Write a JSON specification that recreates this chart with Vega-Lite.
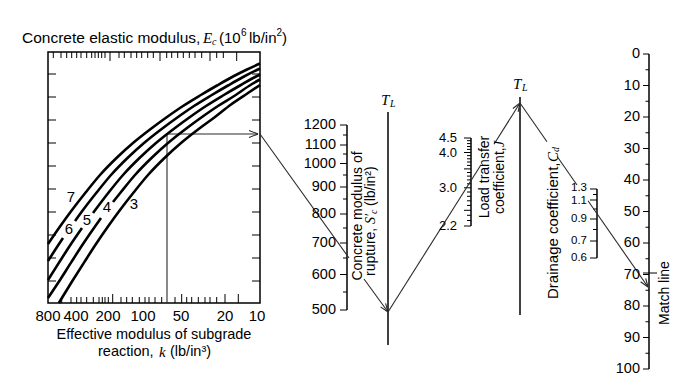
{
  "$schema": "https://vega.github.io/schema/vega-lite/v6.json",
  "width": 700,
  "height": 390,
  "autosize": {"type": "fit", "contains": "padding"},
  "padding": 0,
  "background": "white",
  "config": {"view": {"stroke": null}},
  "datasets": {
    "frame": [{"x": 48, "x2": 260, "y": 52, "y2": 303}],
    "curves": [
      {"seg": "7", "x": 48, "y": 244}, {"seg": "7", "x": 60, "y": 226.5}, {"seg": "7", "x": 72, "y": 210}, {"seg": "7", "x": 86, "y": 192}, {"seg": "7", "x": 100, "y": 175}, {"seg": "7", "x": 117, "y": 157.5}, {"seg": "7", "x": 133, "y": 143}, {"seg": "7", "x": 150, "y": 129.5}, {"seg": "7", "x": 167, "y": 117}, {"seg": "7", "x": 183, "y": 106}, {"seg": "7", "x": 200, "y": 95.5}, {"seg": "7", "x": 217, "y": 85.5}, {"seg": "7", "x": 233, "y": 76.5}, {"seg": "7", "x": 247, "y": 69.5}, {"seg": "7", "x": 260, "y": 63.5},
      {"seg": "6a", "x": 48, "y": 261}, {"seg": "6a", "x": 59, "y": 244}, {"seg": "6a", "x": 63, "y": 238},
      {"seg": "6b", "x": 75, "y": 221}, {"seg": "6b", "x": 83, "y": 210}, {"seg": "6b", "x": 97, "y": 192}, {"seg": "6b", "x": 111, "y": 175}, {"seg": "6b", "x": 128, "y": 157.5}, {"seg": "6b", "x": 144, "y": 143}, {"seg": "6b", "x": 161, "y": 129.5}, {"seg": "6b", "x": 178, "y": 117}, {"seg": "6b", "x": 194, "y": 106}, {"seg": "6b", "x": 211, "y": 95.5}, {"seg": "6b", "x": 228, "y": 85.5}, {"seg": "6b", "x": 244, "y": 76.5}, {"seg": "6b", "x": 258, "y": 69.5}, {"seg": "6b", "x": 260, "y": 68.6},
      {"seg": "5a", "x": 48, "y": 280}, {"seg": "5a", "x": 59, "y": 262.6}, {"seg": "5a", "x": 71, "y": 244}, {"seg": "5a", "x": 82, "y": 228},
      {"seg": "5b", "x": 93, "y": 213}, {"seg": "5b", "x": 109, "y": 192}, {"seg": "5b", "x": 123, "y": 175}, {"seg": "5b", "x": 140, "y": 157.5}, {"seg": "5b", "x": 156, "y": 143}, {"seg": "5b", "x": 173, "y": 129.5}, {"seg": "5b", "x": 190, "y": 117}, {"seg": "5b", "x": 206, "y": 106}, {"seg": "5b", "x": 223, "y": 95.5}, {"seg": "5b", "x": 240, "y": 85.5}, {"seg": "5b", "x": 256, "y": 76.5}, {"seg": "5b", "x": 260, "y": 74.5},
      {"seg": "4a", "x": 48, "y": 298}, {"seg": "4a", "x": 59, "y": 281.5}, {"seg": "4a", "x": 71, "y": 262.6}, {"seg": "4a", "x": 83, "y": 244}, {"seg": "4a", "x": 95, "y": 226.5}, {"seg": "4a", "x": 101, "y": 218},
      {"seg": "4b", "x": 113, "y": 202}, {"seg": "4b", "x": 121, "y": 192}, {"seg": "4b", "x": 135, "y": 175}, {"seg": "4b", "x": 152, "y": 157.5}, {"seg": "4b", "x": 168, "y": 143}, {"seg": "4b", "x": 185, "y": 129.5}, {"seg": "4b", "x": 202, "y": 117}, {"seg": "4b", "x": 218, "y": 106}, {"seg": "4b", "x": 235, "y": 95.5}, {"seg": "4b", "x": 252, "y": 84}, {"seg": "4b", "x": 260, "y": 79.5},
      {"seg": "3", "x": 58.8, "y": 303}, {"seg": "3", "x": 72, "y": 281.5}, {"seg": "3", "x": 84, "y": 262.6}, {"seg": "3", "x": 96, "y": 244}, {"seg": "3", "x": 108, "y": 226.5}, {"seg": "3", "x": 120, "y": 210}, {"seg": "3", "x": 134, "y": 192}, {"seg": "3", "x": 148, "y": 175}, {"seg": "3", "x": 165, "y": 157.5}, {"seg": "3", "x": 181, "y": 143}, {"seg": "3", "x": 198, "y": 129.5}, {"seg": "3", "x": 215, "y": 117}, {"seg": "3", "x": 231, "y": 104.5}, {"seg": "3", "x": 248, "y": 93}, {"seg": "3", "x": 260, "y": 85}
    ],
    "vticks": [
      {"x": 61.7, "y": 303, "y2": 297}, {"x": 71, "y": 303, "y2": 297}, {"x": 76.7, "y": 303, "y2": 297}, {"x": 81, "y": 303, "y2": 297}, {"x": 86.7, "y": 303, "y2": 297}, {"x": 93.3, "y": 303, "y2": 297}, {"x": 99, "y": 303, "y2": 297}, {"x": 102.3, "y": 303, "y2": 297}, {"x": 105, "y": 303, "y2": 297}, {"x": 108.3, "y": 303, "y2": 297}, {"x": 112.7, "y": 303, "y2": 294}, {"x": 121, "y": 303, "y2": 297}, {"x": 126.7, "y": 303, "y2": 297}, {"x": 132.3, "y": 303, "y2": 297}, {"x": 139.3, "y": 303, "y2": 297}, {"x": 145, "y": 303, "y2": 297}, {"x": 149, "y": 303, "y2": 297}, {"x": 155, "y": 303, "y2": 297}, {"x": 161.7, "y": 303, "y2": 297}, {"x": 175, "y": 303, "y2": 297}, {"x": 181.7, "y": 303, "y2": 294}, {"x": 186.7, "y": 303, "y2": 297}, {"x": 191.7, "y": 303, "y2": 297}, {"x": 198.3, "y": 303, "y2": 297}, {"x": 205, "y": 303, "y2": 297}, {"x": 210, "y": 303, "y2": 297}, {"x": 216.7, "y": 303, "y2": 297}, {"x": 225, "y": 303, "y2": 294}, {"x": 238.3, "y": 303, "y2": 294},
      {"x": 53.3, "y": 52, "y2": 58}, {"x": 61, "y": 52, "y2": 58}, {"x": 66.7, "y": 52, "y2": 58}, {"x": 71.7, "y": 52, "y2": 58}, {"x": 76.7, "y": 52, "y2": 58}, {"x": 81, "y": 52, "y2": 58}, {"x": 86.7, "y": 52, "y2": 58}, {"x": 91.7, "y": 52, "y2": 58}, {"x": 95, "y": 52, "y2": 58}, {"x": 98.3, "y": 52, "y2": 58}, {"x": 101.7, "y": 52, "y2": 58}, {"x": 105, "y": 52, "y2": 58}, {"x": 110, "y": 52, "y2": 61}, {"x": 119, "y": 52, "y2": 58}, {"x": 124.3, "y": 52, "y2": 58}, {"x": 131, "y": 52, "y2": 58}, {"x": 136.7, "y": 52, "y2": 58}, {"x": 141.7, "y": 52, "y2": 58}, {"x": 147.7, "y": 52, "y2": 58}, {"x": 153.3, "y": 52, "y2": 58}, {"x": 160, "y": 52, "y2": 61}, {"x": 166.7, "y": 52, "y2": 58}, {"x": 171.7, "y": 52, "y2": 58}, {"x": 177.7, "y": 52, "y2": 58}, {"x": 183.3, "y": 52, "y2": 58}, {"x": 189.3, "y": 52, "y2": 58}, {"x": 195, "y": 52, "y2": 58}, {"x": 201.7, "y": 52, "y2": 58}, {"x": 210, "y": 52, "y2": 61}, {"x": 216.7, "y": 52, "y2": 58}, {"x": 223.3, "y": 52, "y2": 58}, {"x": 236.7, "y": 52, "y2": 61}
    ],
    "hticks": [
      {"x": 48, "x2": 56, "y": 74}, {"x": 48, "x2": 56, "y": 97}, {"x": 48, "x2": 56, "y": 120}, {"x": 48, "x2": 56, "y": 143}, {"x": 48, "x2": 56, "y": 166}, {"x": 48, "x2": 56, "y": 189}, {"x": 48, "x2": 56, "y": 212}, {"x": 48, "x2": 56, "y": 235}, {"x": 48, "x2": 56, "y": 258}, {"x": 48, "x2": 56, "y": 281},
      {"x": 252, "x2": 260, "y": 74}, {"x": 252, "x2": 260, "y": 97}, {"x": 252, "x2": 260, "y": 120}, {"x": 252, "x2": 260, "y": 143}, {"x": 252, "x2": 260, "y": 166}, {"x": 252, "x2": 260, "y": 189}, {"x": 252, "x2": 260, "y": 212}, {"x": 252, "x2": 260, "y": 235}, {"x": 252, "x2": 260, "y": 258}, {"x": 252, "x2": 260, "y": 281},
      {"x": 340, "x2": 347, "y": 125}, {"x": 340, "x2": 347, "y": 145}, {"x": 340, "x2": 347, "y": 163.5}, {"x": 340, "x2": 347, "y": 187}, {"x": 340, "x2": 347, "y": 214}, {"x": 340, "x2": 347, "y": 243}, {"x": 340, "x2": 347, "y": 274.5}, {"x": 340, "x2": 347, "y": 310},
      {"x": 343, "x2": 347, "y": 135}, {"x": 343, "x2": 347, "y": 154}, {"x": 343, "x2": 347, "y": 175}, {"x": 343, "x2": 347, "y": 199}, {"x": 343, "x2": 347, "y": 228}, {"x": 343, "x2": 347, "y": 258}, {"x": 343, "x2": 347, "y": 292},
      {"x": 464, "x2": 471, "y": 226}, {"x": 464, "x2": 471, "y": 210.3}, {"x": 464, "x2": 471, "y": 187.8}, {"x": 464, "x2": 471, "y": 168.9}, {"x": 464, "x2": 471, "y": 152.5}, {"x": 464, "x2": 471, "y": 138},
      {"x": 467, "x2": 471, "y": 220.5}, {"x": 467, "x2": 471, "y": 215.3}, {"x": 467, "x2": 471, "y": 205.4}, {"x": 467, "x2": 471, "y": 200.8}, {"x": 467, "x2": 471, "y": 196.3}, {"x": 467, "x2": 471, "y": 192}, {"x": 467, "x2": 471, "y": 183.8}, {"x": 467, "x2": 471, "y": 179.9}, {"x": 467, "x2": 471, "y": 176.1}, {"x": 467, "x2": 471, "y": 172.5}, {"x": 467, "x2": 471, "y": 165.4}, {"x": 467, "x2": 471, "y": 162}, {"x": 467, "x2": 471, "y": 158.8}, {"x": 467, "x2": 471, "y": 155.6}, {"x": 467, "x2": 471, "y": 149.4}, {"x": 467, "x2": 471, "y": 146.5}, {"x": 467, "x2": 471, "y": 143.6}, {"x": 467, "x2": 471, "y": 140.7},
      {"x": 590, "x2": 597, "y": 189}, {"x": 590, "x2": 597, "y": 200}, {"x": 590, "x2": 597, "y": 219}, {"x": 590, "x2": 597, "y": 241}, {"x": 590, "x2": 597, "y": 258},
      {"x": 593, "x2": 597, "y": 194.5}, {"x": 593, "x2": 597, "y": 209}, {"x": 593, "x2": 597, "y": 229.5},
      {"x": 643, "x2": 649, "y": 54}, {"x": 643, "x2": 649, "y": 85.5}, {"x": 643, "x2": 649, "y": 117}, {"x": 643, "x2": 649, "y": 148.5}, {"x": 643, "x2": 649, "y": 180}, {"x": 643, "x2": 649, "y": 211.5}, {"x": 643, "x2": 649, "y": 243}, {"x": 643, "x2": 649, "y": 274.5}, {"x": 643, "x2": 649, "y": 306}, {"x": 643, "x2": 649, "y": 337.5}, {"x": 643, "x2": 649, "y": 369},
      {"x": 645.5, "x2": 649, "y": 69.75}, {"x": 645.5, "x2": 649, "y": 101.25}, {"x": 645.5, "x2": 649, "y": 132.75}, {"x": 645.5, "x2": 649, "y": 164.25}, {"x": 645.5, "x2": 649, "y": 195.75}, {"x": 645.5, "x2": 649, "y": 227.25}, {"x": 645.5, "x2": 649, "y": 258.75}, {"x": 645.5, "x2": 649, "y": 290.25}, {"x": 645.5, "x2": 649, "y": 321.75}, {"x": 645.5, "x2": 649, "y": 353.25},
      {"x": 643, "x2": 657, "y": 273}
    ],
    "axislines": [
      {"x": 347, "y": 125, "y2": 310},
      {"x": 388, "y": 112, "y2": 345},
      {"x": 471, "y": 138, "y2": 226},
      {"x": 520, "y": 97, "y2": 315},
      {"x": 597, "y": 189, "y2": 258},
      {"x": 649, "y": 54, "y2": 369}
    ],
    "path": [
      {"x": 167, "y": 303, "x2": 167, "y2": 134},
      {"x": 167, "y": 134, "x2": 258, "y2": 134},
      {"x": 249, "y": 130.5, "x2": 258, "y2": 134},
      {"x": 249, "y": 137.5, "x2": 258, "y2": 134},
      {"x": 260, "y": 134, "x2": 349, "y2": 258},
      {"x": 364, "y": 279, "x2": 388, "y2": 312},
      {"x": 385.6, "y": 303.3, "x2": 388, "y2": 312},
      {"x": 380.6, "y": 306.9, "x2": 388, "y2": 312},
      {"x": 388, "y": 312, "x2": 481, "y2": 164.8},
      {"x": 494, "y": 144.2, "x2": 520, "y2": 103},
      {"x": 512.9, "y": 108.5, "x2": 520, "y2": 103},
      {"x": 518.1, "y": 111.8, "x2": 520, "y2": 103},
      {"x": 520, "y": 103, "x2": 547, "y2": 141.8},
      {"x": 557, "y": 156.2, "x2": 577, "y2": 185},
      {"x": 588, "y": 200.8, "x2": 648, "y2": 287},
      {"x": 645.7, "y": 278.3, "x2": 648, "y2": 287},
      {"x": 640.6, "y": 281.8, "x2": 648, "y2": 287}
    ],
    "sans15c": [
      {"x": 48, "y": 316, "text": "800"}, {"x": 76, "y": 316, "text": "400"}, {"x": 108, "y": 316, "text": "200"}, {"x": 143, "y": 316, "text": "100"}, {"x": 181, "y": 316, "text": "50"}, {"x": 225, "y": 316, "text": "20"}, {"x": 257, "y": 316, "text": "10"},
      {"x": 71, "y": 197, "text": "7"}, {"x": 69, "y": 229, "text": "6"}, {"x": 87, "y": 220, "text": "5"}, {"x": 107, "y": 207, "text": "4"}, {"x": 134, "y": 204, "text": "3"}
    ],
    "sans145c": [
      {"x": 154, "y": 335, "text": "Effective modulus of subgrade"}
    ],
    "sans145r": [
      {"x": 336, "y": 125, "text": "1200"}, {"x": 336, "y": 145, "text": "1100"}, {"x": 336, "y": 163.5, "text": "1000"}, {"x": 336, "y": 187, "text": "900"}, {"x": 336, "y": 214, "text": "800"}, {"x": 336, "y": 243, "text": "700"}, {"x": 336, "y": 274.5, "text": "600"}, {"x": 336, "y": 310, "text": "500"},
      {"x": 640, "y": 54, "text": "0"}, {"x": 640, "y": 85.5, "text": "10"}, {"x": 640, "y": 117, "text": "20"}, {"x": 640, "y": 148.5, "text": "30"}, {"x": 640, "y": 180, "text": "40"}, {"x": 640, "y": 211.5, "text": "50"}, {"x": 640, "y": 243, "text": "60"}, {"x": 640, "y": 274.5, "text": "70"}, {"x": 640, "y": 306, "text": "80"}, {"x": 640, "y": 337.5, "text": "90"}, {"x": 640, "y": 369, "text": "100"}
    ],
    "sans13r": [
      {"x": 457, "y": 137.5, "text": "4.5"}, {"x": 457, "y": 152.5, "text": "4.0"}, {"x": 457, "y": 188, "text": "3.0"}, {"x": 457, "y": 226, "text": "2.2"}
    ],
    "sans115r": [
      {"x": 587, "y": 188, "text": "1.3"}, {"x": 587, "y": 200.5, "text": "1.1"}, {"x": 587, "y": 219, "text": "0.9"}, {"x": 587, "y": 241, "text": "0.7"}, {"x": 587, "y": 258, "text": "0.6"}
    ],
    "sans155l": [
      {"x": 22, "y": 38, "text": "Concrete elastic modulus,"}
    ],
    "sans15l": [
      {"x": 219, "y": 38, "text": "(10"},
      {"x": 249, "y": 38, "text": "lb/in"},
      {"x": 282, "y": 38, "text": ")"}
    ],
    "sans10l": [
      {"x": 241, "y": 33, "text": "6"},
      {"x": 276.5, "y": 33, "text": "2"}
    ],
    "sans145l": [
      {"x": 98, "y": 352, "text": "reaction,"},
      {"x": 170, "y": 352, "text": "(lb/in³)"}
    ],
    "serif15l": [
      {"x": 203, "y": 38, "text": "E"},
      {"x": 381, "y": 100, "text": "T"},
      {"x": 513, "y": 84, "text": "T"},
      {"x": 159, "y": 352, "text": "k"}
    ],
    "serif10l": [
      {"x": 212, "y": 42, "text": "c"},
      {"x": 390, "y": 104, "text": "L"},
      {"x": 522, "y": 88, "text": "L"}
    ],
    "rot14c": [
      {"x": 358, "y": 216, "text": "Concrete modulus of"},
      {"x": 485, "y": 177, "text": "Load transfer"},
      {"x": 665, "y": 293, "text": "Match line"}
    ],
    "rot14l": [
      {"x": 371, "y": 276, "text": "rupture,"},
      {"x": 371, "y": 206, "text": "(lb/in²)"},
      {"x": 500, "y": 214, "text": "coefficient,"}
    ],
    "rot15l": [
      {"x": 553, "y": 299, "text": "Drainage coefficient,"}
    ],
    "rotserif14l": [
      {"x": 371, "y": 224, "text": "S′"},
      {"x": 500, "y": 147, "text": "J"}
    ],
    "rotserif15l": [
      {"x": 553, "y": 162, "text": "C"}
    ],
    "rotserif10l": [
      {"x": 374, "y": 214, "text": "c"},
      {"x": 556, "y": 152, "text": "d"}
    ]
  },
  "encoding": {
    "x": {"field": "x", "type": "quantitative", "scale": {"domain": [0, 700], "nice": false, "zero": false}, "axis": null},
    "y": {"field": "y", "type": "quantitative", "scale": {"domain": [0, 390], "reverse": true, "nice": false, "zero": false}, "axis": null}
  },
  "layer": [
    {"data": {"name": "frame"}, "mark": {"type": "rect", "filled": false, "stroke": "#000", "strokeWidth": 1.5}, "encoding": {"x2": {"field": "x2"}, "y2": {"field": "y2"}}},
    {"data": {"name": "vticks"}, "mark": {"type": "rule", "stroke": "#000", "strokeWidth": 1}, "encoding": {"y2": {"field": "y2"}}},
    {"data": {"name": "hticks"}, "mark": {"type": "rule", "stroke": "#000", "strokeWidth": 1}, "encoding": {"x2": {"field": "x2"}}},
    {"data": {"name": "axislines"}, "mark": {"type": "rule", "stroke": "#000", "strokeWidth": 1.5}, "encoding": {"y2": {"field": "y2"}}},
    {"data": {"name": "path"}, "mark": {"type": "rule", "stroke": "#2a2a2a", "strokeWidth": 1.1}, "encoding": {"x2": {"field": "x2"}, "y2": {"field": "y2"}}},
    {"data": {"name": "curves"}, "mark": {"type": "line", "stroke": "#000", "strokeWidth": 2.6, "interpolate": "monotone", "clip": true}, "encoding": {"detail": {"field": "seg", "type": "nominal"}}},
    {"data": {"name": "sans15c"}, "mark": {"type": "text", "font": "Liberation Sans", "fontSize": 15, "align": "center", "baseline": "middle", "color": "#000"}, "encoding": {"text": {"field": "text", "type": "nominal"}}},
    {"data": {"name": "sans145c"}, "mark": {"type": "text", "font": "Liberation Sans", "fontSize": 14.5, "align": "center", "baseline": "middle", "color": "#000"}, "encoding": {"text": {"field": "text", "type": "nominal"}}},
    {"data": {"name": "sans145r"}, "mark": {"type": "text", "font": "Liberation Sans", "fontSize": 14.5, "align": "right", "baseline": "middle", "color": "#000"}, "encoding": {"text": {"field": "text", "type": "nominal"}}},
    {"data": {"name": "sans13r"}, "mark": {"type": "text", "font": "Liberation Sans", "fontSize": 13, "align": "right", "baseline": "middle", "color": "#000"}, "encoding": {"text": {"field": "text", "type": "nominal"}}},
    {"data": {"name": "sans115r"}, "mark": {"type": "text", "font": "Liberation Sans", "fontSize": 11.5, "align": "right", "baseline": "middle", "color": "#000"}, "encoding": {"text": {"field": "text", "type": "nominal"}}},
    {"data": {"name": "sans155l"}, "mark": {"type": "text", "font": "Liberation Sans", "fontSize": 15.5, "align": "left", "baseline": "middle", "color": "#000"}, "encoding": {"text": {"field": "text", "type": "nominal"}}},
    {"data": {"name": "sans15l"}, "mark": {"type": "text", "font": "Liberation Sans", "fontSize": 15, "align": "left", "baseline": "middle", "color": "#000"}, "encoding": {"text": {"field": "text", "type": "nominal"}}},
    {"data": {"name": "sans10l"}, "mark": {"type": "text", "font": "Liberation Sans", "fontSize": 10, "align": "left", "baseline": "middle", "color": "#000"}, "encoding": {"text": {"field": "text", "type": "nominal"}}},
    {"data": {"name": "sans145l"}, "mark": {"type": "text", "font": "Liberation Sans", "fontSize": 14.5, "align": "left", "baseline": "middle", "color": "#000"}, "encoding": {"text": {"field": "text", "type": "nominal"}}},
    {"data": {"name": "serif15l"}, "mark": {"type": "text", "font": "Liberation Serif", "fontStyle": "italic", "fontSize": 15, "align": "left", "baseline": "middle", "color": "#000"}, "encoding": {"text": {"field": "text", "type": "nominal"}}},
    {"data": {"name": "serif10l"}, "mark": {"type": "text", "font": "Liberation Serif", "fontStyle": "italic", "fontSize": 10, "align": "left", "baseline": "middle", "color": "#000"}, "encoding": {"text": {"field": "text", "type": "nominal"}}},
    {"data": {"name": "rot14c"}, "mark": {"type": "text", "font": "Liberation Sans", "fontSize": 14, "angle": 270, "align": "center", "baseline": "middle", "color": "#000"}, "encoding": {"text": {"field": "text", "type": "nominal"}}},
    {"data": {"name": "rot14l"}, "mark": {"type": "text", "font": "Liberation Sans", "fontSize": 14, "angle": 270, "align": "left", "baseline": "middle", "color": "#000"}, "encoding": {"text": {"field": "text", "type": "nominal"}}},
    {"data": {"name": "rot15l"}, "mark": {"type": "text", "font": "Liberation Sans", "fontSize": 15, "angle": 270, "align": "left", "baseline": "middle", "color": "#000"}, "encoding": {"text": {"field": "text", "type": "nominal"}}},
    {"data": {"name": "rotserif14l"}, "mark": {"type": "text", "font": "Liberation Serif", "fontStyle": "italic", "fontSize": 14, "angle": 270, "align": "left", "baseline": "middle", "color": "#000"}, "encoding": {"text": {"field": "text", "type": "nominal"}}},
    {"data": {"name": "rotserif15l"}, "mark": {"type": "text", "font": "Liberation Serif", "fontStyle": "italic", "fontSize": 15, "angle": 270, "align": "left", "baseline": "middle", "color": "#000"}, "encoding": {"text": {"field": "text", "type": "nominal"}}},
    {"data": {"name": "rotserif10l"}, "mark": {"type": "text", "font": "Liberation Serif", "fontStyle": "italic", "fontSize": 10, "angle": 270, "align": "left", "baseline": "middle", "color": "#000"}, "encoding": {"text": {"field": "text", "type": "nominal"}}}
  ]
}
